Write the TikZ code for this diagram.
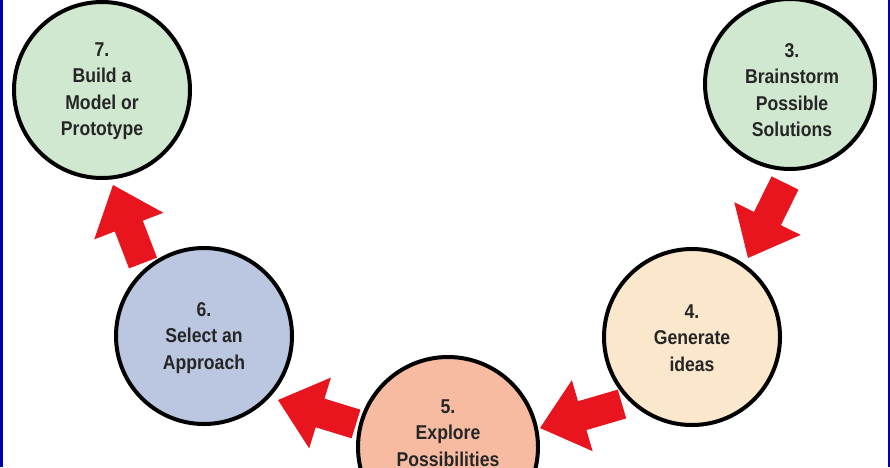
\documentclass[tikz,border=0pt]{standalone}
\usepackage{fontspec}
\setmainfont{Liberation Sans}[FakeStretch=0.88]
\usetikzlibrary{calc}
\definecolor{arrred}{HTML}{E8141E}
\tikzset{
  stage/.style={circle,draw=black,line width=4pt,minimum size=#1,inner sep=0pt},
  lbl/.style={align=center,font=\bfseries\fontsize{20}{26.5}\selectfont,text=black!85},
  arr/.style={fill=arrred}
}
\newcommand\blockarrow[2]{%
  \fill[arr] ($(#1)!15pt!90:(#2)$) -- ($($(#2)!44pt!(#1)$)!15pt!90:(#2)$)
   -- ($($(#2)!44pt!(#1)$)!37pt!90:(#2)$) -- (#2)
   -- ($($(#2)!44pt!(#1)$)!37pt!-90:(#2)$) -- ($($(#2)!44pt!(#1)$)!15pt!-90:(#2)$)
   -- ($(#1)!15pt!-90:(#2)$) -- cycle;}
\begin{document}
\begin{tikzpicture}[x=1pt,y=-1pt]
\useasboundingbox (0,0) rectangle (890,467);
\clip (0,0) rectangle (890,467);
\node[stage=176pt,fill={rgb,255:red,207;green,232;blue,207}] (c7) at (102,90) {};
\node[stage=170pt,fill={rgb,255:red,207;green,232;blue,207}] (c3) at (790,84) {};
\node[stage=176pt,fill={rgb,255:red,251;green,231;blue,203}] (c4) at (692,337) {};
\node[stage=176pt,fill={rgb,255:red,187;green,198;blue,224}] (c6) at (204,336) {};
\node[stage=180pt,fill={rgb,255:red,247;green,187;blue,162}] (c5) at (448,447) {};
\node[lbl] (t7) at (102,91) {7.\\Build a\\Model or\\Prototype};
\node[lbl] (t3) at (792,90) {3.\\Brainstorm\\Possible\\Solutions};
\node[lbl] (t4) at (692,338) {4.\\Generate\\ideas};
\node[lbl] (t6) at (204,338) {6.\\Select an\\Approach};
\node[lbl,anchor=north] (t5) at (448,396) {5.\\Explore\\Possibilities};
\coordinate (s34) at (785,183); \coordinate (e34) at (748,258);
\coordinate (s45) at (622,404); \coordinate (e45) at (540,428);
\coordinate (s56) at (356,424); \coordinate (e56) at (278,400);
\coordinate (s67) at (143,263); \coordinate (e67) at (113,185);
\blockarrow{s34}{e34}
\blockarrow{s45}{e45}
\blockarrow{s56}{e56}
\blockarrow{s67}{e67}
\fill[blue!70!black] (0,0) rectangle (2.5,467);
\fill[blue!70!black] (887.5,0) rectangle (890,467);
\end{tikzpicture}
\end{document}
